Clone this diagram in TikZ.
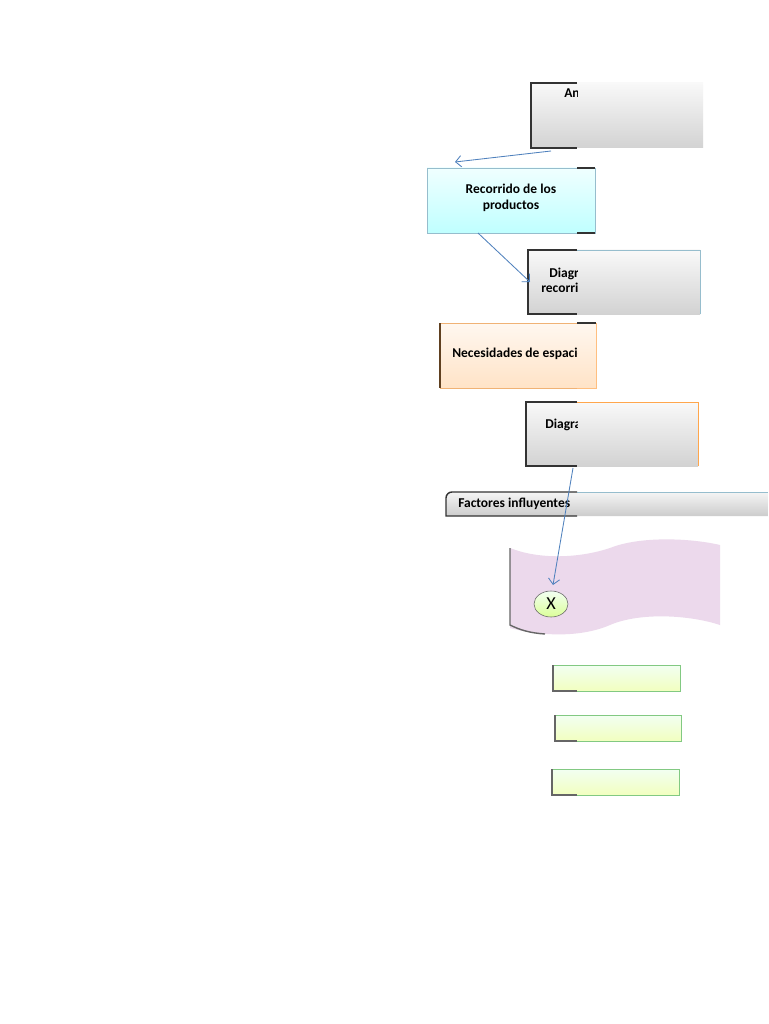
\documentclass[tikz,border=0pt]{standalone}
\usepackage{fontspec}
\setmainfont{Carlito}
\usetikzlibrary{arrows.meta,shapes.geometric}
\begin{document}
\begin{tikzpicture}[x=0.25mm,y=-0.25mm,
  conn/.style={draw={rgb,255:red,79;green,129;blue,189},line width=0.6pt,-{Straight Barb[length=4pt,width=8pt]}},
  lbl/.style={font=\bfseries\fontsize{9.6}{11}\selectfont,align=center,inner sep=0}]
\useasboundingbox (0,0) rectangle (768,1024);
\fill[white] (0,0) rectangle (768,1024);
% box 1
\shade[top color=gray!5,bottom color=gray!35] (531,83) rectangle (703,148);
\draw[black!80,line width=1pt] (577,83) -- (531,83) -- (531,148) -- (577,148);
\coordinate (b1) at (551,151);
% box 2
\shade[top color=cyan!6,bottom color=cyan!25] (427,168) rectangle (595,233);
\draw[cyan!40!gray!70,line width=0.6pt] (427,168) rectangle (595,233);
\draw[black!80,line width=1pt] (577,168) -- (595,168);
\draw[black!80,line width=1pt] (577,233) -- (595,233);
\coordinate (b2in) at (455,162);
\coordinate (b2out) at (478,233);
\node[lbl] (t2) at (511,198) {Recorrido de los\\productos};
% box 3
\shade[top color=gray!5,bottom color=gray!35] (528,250) rectangle (700,314);
\draw[cyan!40!gray!70,line width=0.6pt] (577,250) -- (700,250) -- (700,314);
\draw[black!80,line width=1pt] (577,250) -- (528,250) -- (528,314) -- (577,314);
\coordinate (b3in) at (530,282);
% box 4
\shade[top color=orange!6,bottom color=orange!22] (440,323) rectangle (596,388);
\draw[orange!60!brown!60,line width=0.6pt] (577,388) -- (440,388) -- (440,323) -- (577,323);
\draw[black!50!brown,line width=1pt] (440,323) -- (440,388);
\draw[black!80,line width=1pt] (577,323) -- (596,323);
\draw[orange!50,line width=0.4pt] (596,323) -- (596,388) -- (577,388);
% box 5
\shade[top color=gray!5,bottom color=gray!35] (526,402) rectangle (698,466);
\draw[orange!70,line width=0.6pt] (577,402) -- (698,402) -- (698,466);
\draw[black!80,line width=1pt] (577,402) -- (526,402) -- (526,466) -- (577,466);
\coordinate (b5) at (573,468);
% factores
\shade[top color=gray!8,bottom color=gray!40] (446,516) -- (446,498) to[out=90,in=180] (452,492) -- (768,492) -- (768,516) -- cycle;
\draw[cyan!40!gray!70,line width=0.5pt] (577,492) -- (768,492);
\draw[black!80,line width=1pt] (577,492) -- (452,492) to[out=180,in=90] (446,498) -- (446,516) -- (577,516);
% wave
\fill[violet!15] (510,548) .. controls (540,560) and (580,558) .. (610,548)
  .. controls (640,536) and (690,538) .. (720,545) -- (720,625)
  .. controls (690,615) and (640,612) .. (610,625)
  .. controls (580,638) and (540,636) .. (510,628) -- cycle;
\draw[black!60,line width=1pt] (510,548) -- (510,625) .. controls (520,630) and (530,633) .. (545,634);
\node[ellipse,draw=black!60,top color=green!5,bottom color=green!35!yellow!40,minimum width=8.5mm,minimum height=6.5mm,inner sep=0,font=\fontsize{13}{13}\selectfont] (x) at (551,604) {X};
\coordinate (xin) at (553,585);
% green boxes
\foreach \n/\a/\b/\c in {g1/553/665/680, g2/555/715/681, g3/552/769/679}{
  \shade[top color=green!5,bottom color=green!20!yellow!25] (\a,\b) rectangle (\c,\b+26);
  \draw[green!40!gray!70,line width=0.5pt] (\a,\b) rectangle (\c,\b+26);
  \draw[black!60,line width=1pt] (577,\b+26) -- (\a,\b+26) -- (\a,\b);
}
% clipped texts
\begin{scope}
\clip (0,0) rectangle (577,1024);
\node[lbl,anchor=north west] (t1) at (564,88) {Análisis};
\node[lbl,anchor=north west,align=left] (t3) at (549,268) {Diagrama de};
\node[lbl,anchor=north west,align=left] (t3b) at (541,283) {recorrido};
\node[lbl,anchor=west] (t4) at (452,354) {Necesidades de espacio};
\node[lbl,anchor=west] (t5) at (545,425) {Diagrama};
\node[lbl,anchor=west] (t6) at (458,504) {Factores influyentes};
\end{scope}
% connectors
\draw[conn] (b1) -- (b2in);
\draw[conn] (b2out) -- (b3in);
\draw[conn] (b5) -- (xin);
\end{tikzpicture}
\end{document}
